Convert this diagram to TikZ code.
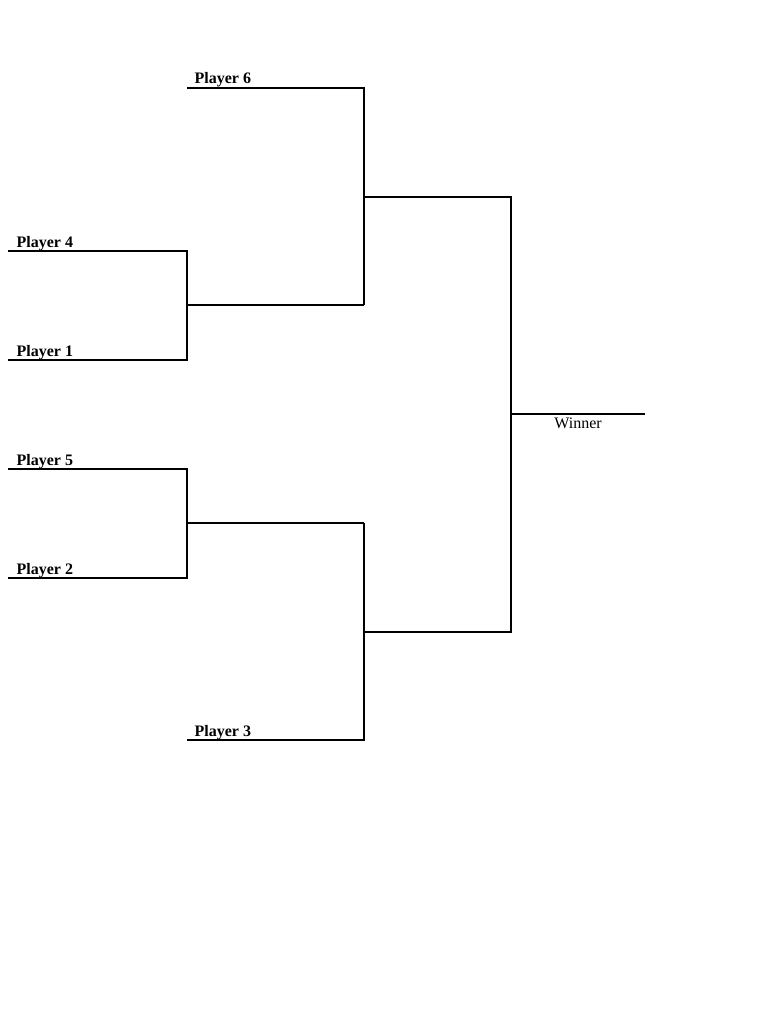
\documentclass[tikz,border=0pt]{standalone}
\usepackage{fontspec}
\setmainfont{Liberation Serif}
\usetikzlibrary{positioning,calc}

\begin{document}
\begin{tikzpicture}[x=0.75pt, y=-0.75pt, line width=0.9pt,
    every node/.style={font=\fontsize{12}{14}\selectfont, inner sep=0pt},
    plabel/.style={anchor=base west, font=\fontsize{12}{14}\selectfont\bfseries}]
    \useasboundingbox (0,0) rectangle (768,1024);
    % first round
    \coordinate (p4a) at (8,251);   \coordinate (p4b) at (187,251);
    \coordinate (p1a) at (8,360);   \coordinate (p1b) at (187,360);
    \coordinate (p5a) at (8,469);   \coordinate (p5b) at (187,469);
    \coordinate (p2a) at (8,578);   \coordinate (p2b) at (187,578);
    % byes
    \coordinate (p6a) at (187,88);  \coordinate (p6b) at (364,88);
    \coordinate (p3a) at (187,740); \coordinate (p3b) at (364,740);
    % second round
    \coordinate (m1a) at (187,305); \coordinate (m1b) at (364,305);
    \coordinate (m2a) at (187,523); \coordinate (m2b) at (364,523);
    % semi finals
    \coordinate (f1a) at (364,197); \coordinate (f1b) at (511,197);
    \coordinate (f2a) at (364,632); \coordinate (f2b) at (511,632);
    % final
    \coordinate (wa) at (511,414);  \coordinate (wb) at (645,414);

    \node[plabel] (n6) at ([shift={(7,-4)}]p6a) {Player 6};
    \node[plabel] (n4) at ([shift={(8,-4)}]p4a) {Player 4};
    \node[plabel] (n1) at ([shift={(8,-4)}]p1a) {Player 1};
    \node[plabel] (n5) at ([shift={(8,-4)}]p5a) {Player 5};
    \node[plabel] (n2) at ([shift={(8,-4)}]p2a) {Player 2};
    \node[plabel] (n3) at ([shift={(7,-4)}]p3a) {Player 3};
    \node[anchor=base] (win) at ([shift={(67,14)}]wa) {Winner};

    \draw (p4a) -- (p4b) -- (p1b) -- (p1a);
    \draw (p5a) -- (p5b) -- (p2b) -- (p2a);
    \draw (m1a) -- (m1b);
    \draw (m2a) -- (m2b);
    \draw (p6a) -- (p6b) -- (m1b);
    \draw (p3a) -- (p3b) -- (m2b);
    \draw (f1a) -- (f1b) -- (f2b) -- (f2a);
    \draw (wa) -- (wb);
\end{tikzpicture}
\end{document}
